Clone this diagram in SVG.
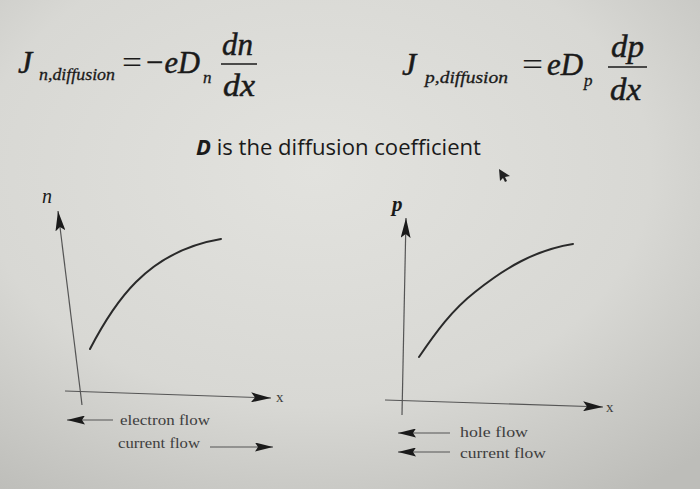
<svg xmlns="http://www.w3.org/2000/svg" width="700" height="489" viewBox="0 0 700 489">
<defs>
<radialGradient id="bg" cx="0.45" cy="0.35" r="0.8">
<stop offset="0" stop-color="#e2e2de"/>
<stop offset="0.6" stop-color="#d8d8d4"/>
<stop offset="1" stop-color="#bdbdb9"/>
</radialGradient>
<marker id="ah" viewBox="0 0 20 10" refX="20" refY="5" markerWidth="20" markerHeight="10" markerUnits="userSpaceOnUse" orient="auto">
<path d="M0,0 L20,5 L0,10 L4,5 Z" fill="#1a1a1a"/>
</marker>
<marker id="ahs" viewBox="0 0 18 9" refX="18" refY="4.5" markerWidth="18" markerHeight="9" markerUnits="userSpaceOnUse" orient="auto">
<path d="M0,0 L18,4.5 L0,9 L3,4.5 Z" fill="#1a1a1a"/>
</marker>
</defs>
<style>
.eq{font-family:"Liberation Serif",serif;font-style:italic;fill:#1a1a1a;stroke:#1a1a1a;stroke-width:0.5}
.big{font-size:32px}
.sub{font-size:17px;stroke-width:0.3}
.axl{font-family:"Liberation Serif",serif;font-style:italic;fill:#1a1a1a}
.op{font-family:"Liberation Serif",serif;font-size:32px;fill:#1a1a1a}
.note{font-family:"Open Sans","Liberation Sans",sans-serif;font-size:22px;fill:#1a1a1a}
.lbl{font-family:"Liberation Serif",serif;font-size:15px;fill:#3e3e3e}
.axis{stroke:#555;stroke-width:1.2;fill:none}
.curve{stroke:#2a2a2a;stroke-width:2;fill:none;stroke-linecap:round}
.flow{stroke:#555;stroke-width:1.2;fill:none}
</style>
<rect width="700" height="489" fill="url(#bg)"/>

<g id="eq-n">
<text class="eq big" x="18" y="73">J</text>
<text class="eq sub" x="39" y="80" textLength="76" lengthAdjust="spacingAndGlyphs">n,diffusion</text>
<text class="op" x="122" y="73" textLength="20" lengthAdjust="spacingAndGlyphs">=</text>
<text class="eq big" x="144" y="73" textLength="56" lengthAdjust="spacingAndGlyphs">−eD</text>
<text class="eq sub" x="203" y="83">n</text>
<text class="eq big" x="222" y="55" textLength="31" lengthAdjust="spacingAndGlyphs">dn</text>
<line x1="221" y1="64" x2="257" y2="64" stroke="#1a1a1a" stroke-width="1.6"/>
<text class="eq big" x="223" y="96" textLength="32" lengthAdjust="spacingAndGlyphs">dx</text>
</g>

<g id="eq-p">
<text class="eq big" x="402" y="75">J</text>
<text class="eq sub" x="425" y="83" textLength="83" lengthAdjust="spacingAndGlyphs">p,diffusion</text>
<text class="op" x="522" y="75" textLength="21" lengthAdjust="spacingAndGlyphs">=</text>
<text class="eq big" x="547" y="75" textLength="36" lengthAdjust="spacingAndGlyphs">eD</text>
<text class="eq sub" x="584" y="86">p</text>
<text class="eq big" x="611" y="57" textLength="33" lengthAdjust="spacingAndGlyphs">dp</text>
<line x1="608" y1="67" x2="647" y2="67" stroke="#1a1a1a" stroke-width="1.6"/>
<text class="eq big" x="610" y="100" textLength="31" lengthAdjust="spacingAndGlyphs">dx</text>
</g>

<g id="note">
<text class="note" x="196" y="155" textLength="285" lengthAdjust="spacingAndGlyphs"><tspan font-weight="bold" font-style="italic">D</tspan> is the diffusion coefficient</text>
</g>

<g id="cursor">
<path d="M499,169 L510,176 L505,177 L507,181 L505,182 L503,178 L500,181 Z" fill="#222"/>
</g>

<g id="graph-n">
<text class="axl" x="42" y="203" font-size="20">n</text>
<line class="axis" x1="82" y1="405" x2="58" y2="211" marker-end="url(#ah)"/>
<line class="axis" x1="65" y1="391" x2="271" y2="398" marker-end="url(#ah)"/>
<text class="lbl" x="276" y="402">x</text>
<path class="curve" d="M90,349 C104,322 118,300 136,282 C158,260 185,245 221,239"/>
</g>

<g id="graph-p">
<text class="axl" x="392" y="211" font-size="21" font-weight="bold">p</text>
<line class="axis" x1="402" y1="415" x2="406" y2="218" marker-end="url(#ah)"/>
<line class="axis" x1="385" y1="400" x2="603" y2="407" marker-end="url(#ah)"/>
<text class="lbl" x="606" y="412">x</text>
<path class="curve" d="M419,357 C436,332 452,310 475,292 C505,268 535,250 573,244"/>
</g>

<g id="connectors">
<line class="flow" x1="113" y1="420" x2="67" y2="420" marker-end="url(#ahs)"/>
<line class="flow" x1="210" y1="447" x2="273" y2="447" marker-end="url(#ahs)"/>
<line class="flow" x1="450" y1="433" x2="398" y2="433" marker-end="url(#ahs)"/>
<line class="flow" x1="450" y1="452" x2="398" y2="452" marker-end="url(#ahs)"/>
</g>

<g id="flow-labels">
<text class="lbl" x="120" y="425" textLength="90" lengthAdjust="spacingAndGlyphs">electron flow</text>
<text class="lbl" x="118" y="448" textLength="82" lengthAdjust="spacingAndGlyphs">current flow</text>
<text class="lbl" x="460" y="437" textLength="68" lengthAdjust="spacingAndGlyphs">hole flow</text>
<text class="lbl" x="460" y="458" textLength="86" lengthAdjust="spacingAndGlyphs">current flow</text>
</g>
</svg>
